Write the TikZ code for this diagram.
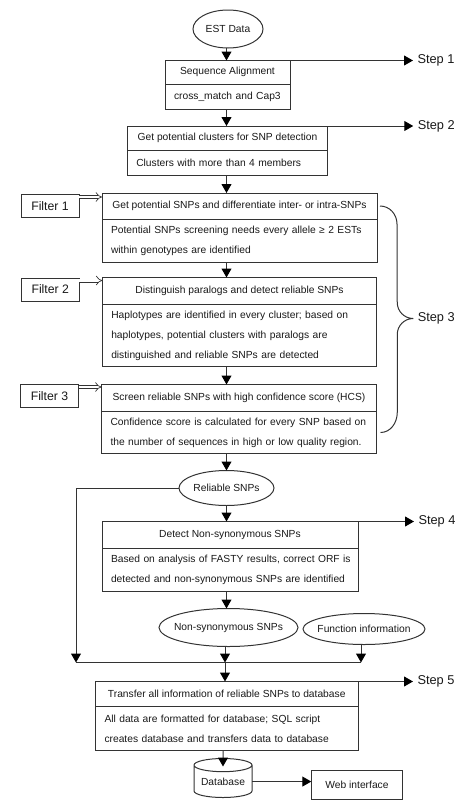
\documentclass[tikz,border=0pt]{standalone}
\usepackage{fontspec}
\setmainfont{Liberation Sans}
\usetikzlibrary{arrows.meta,calc,shapes.geometric}
\newdimen\pxu
\pxu=.75pt
\newcommand\stepbox[9]{% name, previous, xshift, yshift, width, head height, body height, title, lines
  \node[HeadSty,anchor=north,xshift=#3\pxu,yshift=-#4\pxu,minimum width=#5\pxu,minimum height=#6\pxu] at (#2) (#1_head) {#8};
  \node[BodySty,anchor=north,text width={#5\pxu-18\pxu},minimum height=#7\pxu] at (#1_head.south) (#1_body) {#9};
}
\begin{document}
\begin{tikzpicture}[x=.75pt,y=.75pt]
		\tikzstyle{every path}=[line width=.75pt,color=black!80]
		\tikzstyle{every node}=[text=black!90,font=\fontsize{7.7}{15}\selectfont]
		\tikzstyle{HeadSty}=[draw,inner sep=0pt,outer sep=0pt]
		\tikzstyle{BodySty}=[draw,inner ysep=0pt,inner xsep=9\pxu,outer sep=0pt,align=left]
		\tikzstyle{OvalSty}=[draw,ellipse,inner ysep=0pt,inner xsep=-10\pxu,outer sep=0pt]
		\tikzstyle{TagSty}=[draw,inner sep=0pt,outer sep=0pt,font=\fontsize{9.2}{11}\selectfont]
		\tikzstyle{StepSty}=[inner sep=4.5\pxu,outer sep=0pt,font=\fontsize{9.6}{11}\selectfont]
		\tikzstyle{FlowSty}=[-{Triangle[length=6.75pt,width=7.5pt,color=black,fill=black]}]
		\tikzstyle{FiltSty}=[double,double distance=2pt,line width=.5pt,-{Implies}]

\useasboundingbox (0,0) rectangle (474,-801);

\node[OvalSty,minimum width=70\pxu,minimum height=38\pxu] at (228,-29) (est) {EST Data\hspace{4\pxu}};
\coordinate[xshift=-1.5\pxu] (spine) at (est);

\stepbox{align}{est.south}{-.5}{12.5}{125}{23.5}{25.5}{Sequence Alignment}{cross\_match and Cap3}
\stepbox{clusters}{align_body.south}{0}{16.5}{200.5}{24}{25}{Get potential clusters for SNP detection}{Clusters with more than 4 members}
\stepbox{snps}{clusters_body.south}{12}{18}{275}{26}{43.5}{Get potential SNPs and differentiate inter- or intra-SNPs}{Potential SNPs screening needs every allele ≥ 2 ESTs\\within genotypes are identified}
\stepbox{paralogs}{snps_body.south}{0}{15}{274.5}{27}{62}{Distinguish paralogs and detect reliable SNPs}{Haplotypes are identified in every cluster; based on\\haplotypes, potential clusters with paralogs are\\distinguished and reliable SNPs are detected}
\stepbox{hcs}{paralogs_body.south}{-.5}{18}{275}{27}{42}{Screen reliable SNPs with high confidence score (HCS)}{Confidence score is calculated for every SNP based on\\the number of sequences in high or low quality region.}

\node[OvalSty,anchor=north,xshift=-12.5\pxu,yshift=-17\pxu,minimum width=95\pxu,minimum height=35\pxu] at (hcs_body.south) (reliable) {Reliable SNPs\hspace{7\pxu}};

\stepbox{fasty}{reliable.south}{3.5}{16}{256}{27}{43}{Detect Non-synonymous SNPs}{\mbox{Based on analysis of FASTY results, correct ORF is}\\detected and non-synonymous SNPs are identified}

\node[OvalSty,anchor=north,xshift=-1.5\pxu,yshift=-17\pxu,minimum width=139\pxu,minimum height=38\pxu] at (fasty_body.south) (nonsyn) {Non-synonymous SNPs\hspace{8\pxu}};
\node[OvalSty,xshift=135.5\pxu,yshift=-1.5\pxu,minimum width=122\pxu,minimum height=31\pxu] at (nonsyn) (function) {Function information};

\stepbox{transfer}{nonsyn.south}{-1.75}{35}{262.5}{25}{44}{Transfer all information of reliable SNPs to database}{All data are formatted for database; SQL script\\creates database and transfers data to database}

\node[draw,cylinder,shape border rotate=90,aspect=.3,inner sep=0pt,outer sep=0pt,minimum width=58\pxu,minimum height=39\pxu,anchor=north,xshift=-3.75\pxu,yshift=-8\pxu] at (transfer_body.south) (database) {Database};
\node[HeadSty,xshift=134\pxu,yshift=-3\pxu,minimum width=91.5\pxu,minimum height=29\pxu] at (database) (web) {Web interface};

\foreach \a/\b in {est.south/align_head.north,align_body.south/clusters_head.north,clusters_body.south/snps_head.north,snps_body.south/paralogs_head.north,paralogs_body.south/hcs_head.north,hcs_body.south/reliable.north,reliable.south/fasty_head.north,fasty_body.south/nonsyn.north}
{
  \draw[FlowSty] (\a -| spine) -- (\b -| spine);
}

\coordinate[xshift=-1.75\pxu,yshift=19\pxu] (merge) at (transfer_head.north);
\coordinate[xshift=-103\pxu] (reliable_corner) at (reliable.west);
\coordinate[xshift=-3\pxu] (function_foot) at (function.south);

\draw (reliable_corner |- merge) -- (function_foot |- merge);
\draw[FlowSty] (reliable.west) -- (reliable_corner) -- (reliable_corner |- merge);
\draw[FlowSty] (nonsyn.south -| merge) -- (merge);
\draw[FlowSty] (function_foot) -- (function_foot |- merge);
\draw[FlowSty] (merge) -- (merge |- transfer_head.north);
\draw[FlowSty] (transfer_body.south -| database) -- ([yshift=-8\pxu]database.north);
\draw[FlowSty] (database.east) -- (database.east -| web.west);

\foreach \i/\from/\dist in {1/align_head/123,2/clusters_head/85.5,4/fasty_head/56,5/transfer_head/55}
{
  \node[StepSty,anchor=west,xshift=\dist\pxu] at (\from.north east) (step\i) {Step \i};
  \draw[FlowSty] (\from.north east) -- (step\i);
}

\foreach \i/\into/\dy in {1/snps_head/13,2/paralogs_head/12,3/hcs_head/11.5}
{
  \node[TagSty,xshift=-52\pxu,yshift=-\dy\pxu,minimum width=58\pxu,minimum height=23\pxu] at (\into.north west) (filter\i) {Filter \i};
  \draw[FiltSty] ([yshift=9\pxu]filter\i.east) -- ([yshift=9\pxu]filter\i.east -| \into.west);
}

\node[StepSty,anchor=west,xshift=36.5\pxu,yshift=17\pxu] at (paralogs_body.east) (step3) {Step 3};
\coordinate (brace_up) at ($(step3.west)+(-16,16)$);
\coordinate (brace_down) at ($(step3.west)+(-16,-16)$);
\draw ([xshift=3\pxu]snps_head.east) to[out=0,in=90] +(17,-18) -- (brace_up) to[out=-90,in=180] (step3.west) to[out=180,in=90] (brace_down) -- ++(0,-78) to[out=-90,in=0] ([xshift=4\pxu]hcs_body.east);

\end{tikzpicture}
\end{document}
